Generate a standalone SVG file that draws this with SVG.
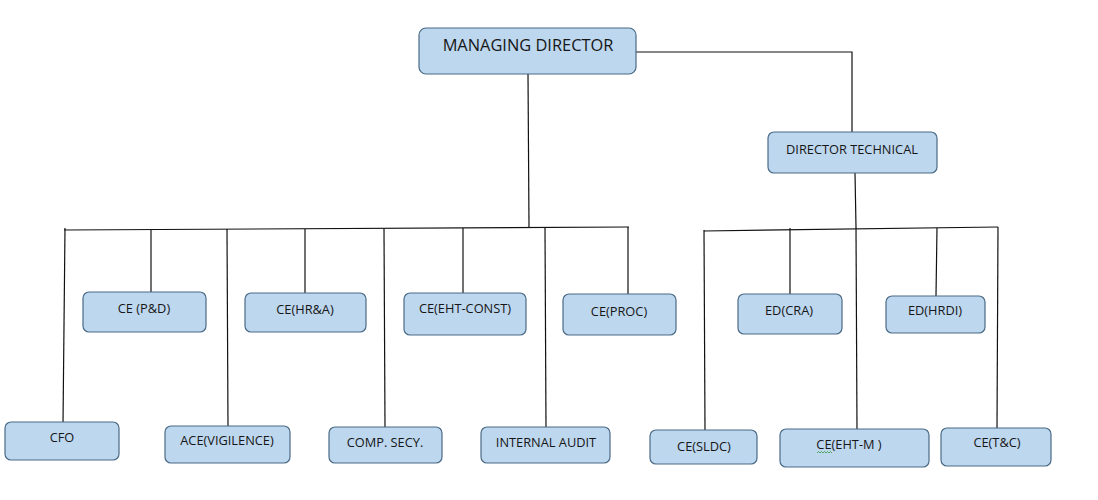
<svg xmlns="http://www.w3.org/2000/svg" width="1098" height="500" viewBox="0 0 1098 500">
<style>
.box{fill:#bdd7ee;stroke:#4a6a86;stroke-width:1.2}
.t{font-family:"Open Sans","Liberation Sans",sans-serif;font-size:12.8px;fill:#161616;text-anchor:middle}
.big{font-size:16.4px}
.ln{stroke:#111;stroke-width:1.2;fill:none}
</style>
<rect width="1098" height="500" fill="#fff"/>
<g id="connectors">
<polyline class="ln" points="636,52 852,52 852,132"/>
<line class="ln" x1="528" y1="74" x2="529" y2="227"/>
<line class="ln" x1="64" y1="230" x2="629" y2="227"/>
<line class="ln" x1="65" y1="228" x2="63" y2="423"/>
<line class="ln" x1="151" y1="230" x2="151" y2="292"/>
<line class="ln" x1="227" y1="229" x2="228" y2="426"/>
<line class="ln" x1="305" y1="229" x2="305" y2="293"/>
<line class="ln" x1="384" y1="229" x2="385" y2="427"/>
<line class="ln" x1="463" y1="228" x2="463" y2="293"/>
<line class="ln" x1="545" y1="228" x2="546" y2="427"/>
<line class="ln" x1="628" y1="227" x2="628" y2="294"/>
<line class="ln" x1="855" y1="173" x2="856" y2="227"/>
<line class="ln" x1="704" y1="231" x2="998" y2="227"/>
<line class="ln" x1="704" y1="230" x2="705" y2="430"/>
<line class="ln" x1="790" y1="228" x2="790" y2="294"/>
<line class="ln" x1="856" y1="227" x2="857" y2="429"/>
<line class="ln" x1="937" y1="228" x2="936" y2="296"/>
<line class="ln" x1="998" y1="227" x2="997" y2="428"/>
</g>
<g id="md"><rect class="box" x="419" y="28" width="217" height="46" rx="7"/><text class="t big" x="528" y="51">MANAGING DIRECTOR</text></g>
<g id="dt"><rect class="box" x="768" y="132" width="169" height="41" rx="6"/><text class="t" x="852" y="154">DIRECTOR TECHNICAL</text></g>
<g id="cfo"><rect class="box" x="5" y="422" width="114" height="38" rx="6"/><text class="t" x="62" y="442">CFO</text></g>
<g id="cepd"><rect class="box" x="83" y="292" width="123" height="40" rx="6"/><text class="t" x="144" y="313">CE (P&amp;D)</text></g>
<g id="ace"><rect class="box" x="165" y="426" width="125" height="37" rx="6"/><text class="t" x="227" y="445">ACE(VIGILENCE)</text></g>
<g id="cehra"><rect class="box" x="245" y="293" width="121" height="39" rx="6"/><text class="t" x="305" y="314">CE(HR&amp;A)</text></g>
<g id="comp"><rect class="box" x="329" y="427" width="113" height="36" rx="6"/><text class="t" x="385" y="447">COMP. SECY.</text></g>
<g id="ceeht"><rect class="box" x="404" y="293" width="122" height="42" rx="6"/><text class="t" x="465" y="313">CE(EHT-CONST)</text></g>
<g id="audit"><rect class="box" x="481" y="427" width="129" height="36" rx="6"/><text class="t" x="546" y="447">INTERNAL AUDIT</text></g>
<g id="ceproc"><rect class="box" x="563" y="294" width="113" height="41" rx="6"/><text class="t" x="619" y="316">CE(PROC)</text></g>
<g id="edcra"><rect class="box" x="738" y="294" width="104" height="40" rx="6"/><text class="t" x="789" y="315">ED(CRA)</text></g>
<g id="edhrdi"><rect class="box" x="886" y="296" width="99" height="37" rx="6"/><text class="t" x="935" y="315">ED(HRDI)</text></g>
<g id="cesldc"><rect class="box" x="650" y="430" width="107" height="34" rx="6"/><text class="t" x="704" y="451">CE(SLDC)</text></g>
<g id="ceehtm"><rect class="box" x="780" y="429" width="149" height="38" rx="6"/><text class="t" x="849" y="449">CE(EHT-M )</text><path d="M817,453 l1.5,-1.5 l1.5,1.5 l1.5,-1.5 l1.5,1.5 l1.5,-1.5 l1.5,1.5 l1.5,-1.5 l1.5,1.5 l1.5,-1.5 l1.5,1.5" fill="none" stroke="#3a9a3a" stroke-width="0.8"/></g>
<g id="cetc"><rect class="box" x="941" y="428" width="110" height="38" rx="6"/><text class="t" x="997" y="447">CE(T&amp;C)</text></g>
</svg>
